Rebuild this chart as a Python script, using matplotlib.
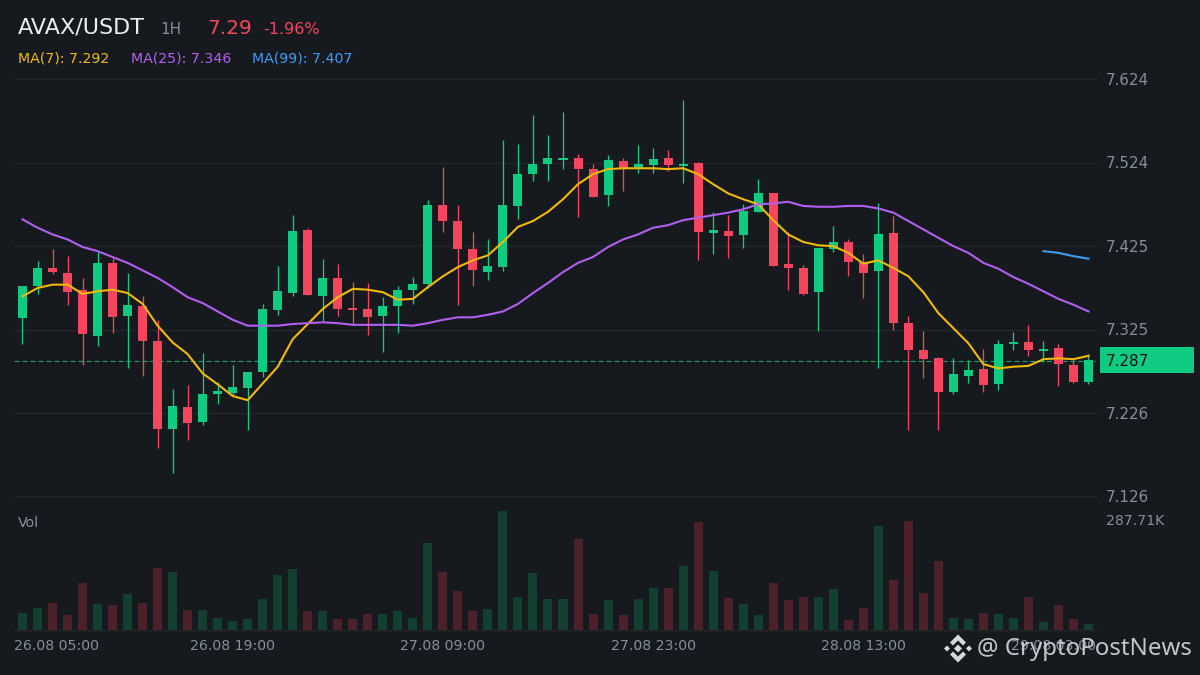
import matplotlib
matplotlib.use("Agg")
import matplotlib.pyplot as plt
from matplotlib.patches import Polygon, Rectangle

# ================= DATA =================
opens = [7.339, 7.377, 7.399, 7.393, 7.373, 7.318, 7.405, 7.342, 7.354, 7.312, 7.207, 7.233,
         7.215, 7.248, 7.250, 7.255, 7.275, 7.349, 7.369, 7.444, 7.365, 7.387, 7.351, 7.350,
         7.342, 7.354, 7.373, 7.380, 7.474, 7.455, 7.422, 7.394, 7.400, 7.473, 7.511, 7.523,
         7.528, 7.530, 7.517, 7.486, 7.527, 7.518, 7.522, 7.530, 7.521, 7.524, 7.441, 7.443,
         7.438, 7.466, 7.488, 7.404, 7.399, 7.370, 7.422, 7.430, 7.406, 7.395, 7.441, 7.333,
         7.301, 7.291, 7.251, 7.270, 7.278, 7.260, 7.308, 7.310, 7.300, 7.303, 7.283, 7.263]
highs = [7.377, 7.407, 7.422, 7.413, 7.387, 7.418, 7.411, 7.393, 7.365, 7.337, 7.254, 7.259,
         7.297, 7.263, 7.283, 7.275, 7.356, 7.401, 7.462, 7.447, 7.410, 7.404, 7.382, 7.381,
         7.364, 7.377, 7.388, 7.480, 7.520, 7.474, 7.442, 7.433, 7.552, 7.547, 7.582, 7.558,
         7.585, 7.535, 7.523, 7.534, 7.530, 7.546, 7.542, 7.540, 7.600, 7.525, 7.466, 7.462,
         7.475, 7.505, 7.488, 7.442, 7.402, 7.423, 7.449, 7.433, 7.416, 7.476, 7.461, 7.342,
         7.324, 7.293, 7.291, 7.289, 7.302, 7.313, 7.322, 7.331, 7.312, 7.308, 7.289, 7.296]
lows = [7.308, 7.368, 7.392, 7.355, 7.283, 7.306, 7.321, 7.279, 7.270, 7.184, 7.154, 7.193,
        7.211, 7.236, 7.246, 7.205, 7.269, 7.343, 7.365, 7.367, 7.334, 7.342, 7.331, 7.319,
        7.299, 7.321, 7.356, 7.375, 7.442, 7.355, 7.377, 7.385, 7.395, 7.457, 7.503, 7.503,
        7.517, 7.460, 7.484, 7.473, 7.491, 7.512, 7.512, 7.515, 7.500, 7.408, 7.416, 7.411,
        7.423, 7.466, 7.401, 7.373, 7.367, 7.324, 7.418, 7.389, 7.363, 7.279, 7.325, 7.205,
        7.267, 7.205, 7.248, 7.261, 7.251, 7.253, 7.301, 7.294, 7.287, 7.258, 7.261, 7.260]
closes = [7.377, 7.399, 7.394, 7.370, 7.320, 7.405, 7.340, 7.355, 7.312, 7.207, 7.234, 7.214,
          7.248, 7.252, 7.257, 7.275, 7.350, 7.371, 7.443, 7.367, 7.387, 7.350, 7.349, 7.340,
          7.354, 7.373, 7.380, 7.474, 7.455, 7.422, 7.396, 7.401, 7.474, 7.511, 7.523, 7.530,
          7.530, 7.517, 7.484, 7.528, 7.518, 7.523, 7.529, 7.522, 7.523, 7.442, 7.444, 7.437,
          7.467, 7.488, 7.401, 7.399, 7.368, 7.423, 7.430, 7.406, 7.393, 7.439, 7.333, 7.301,
          7.290, 7.251, 7.272, 7.277, 7.259, 7.308, 7.310, 7.301, 7.302, 7.284, 7.263, 7.289]

volumes = [43.3, 56.6, 69.8, 38.0, 122.9, 67.2, 64.5, 93.7, 69.8, 162.7, 152.0, 51.3,
           51.3, 30.0, 22.0, 27.4, 80.4, 144.0, 160.0, 48.6, 48.6, 27.4, 27.4, 40.7,
           40.7, 48.6, 30.0, 229.0, 152.0, 101.7, 48.6, 53.9, 313.8, 85.7, 149.4, 80.4,
           80.4, 239.6, 40.7, 77.8, 38.0, 80.4, 109.6, 109.6, 168.0, 284.6, 154.7, 83.0,
           67.2, 38.0, 122.9, 77.8, 85.7, 85.7, 107.0, 24.8, 56.6, 274.0, 130.8, 287.3,
           96.4, 181.2, 30.0, 27.4, 43.3, 40.7, 30.0, 85.7, 19.4, 64.5, 27.4, 14.1]

ma7 = [7.365, 7.375, 7.379, 7.379, 7.368, 7.371, 7.373, 7.369, 7.356, 7.330, 7.310, 7.296,
       7.273, 7.260, 7.246, 7.241, 7.261, 7.281, 7.314, 7.332, 7.350, 7.364, 7.374, 7.373,
       7.370, 7.361, 7.362, 7.376, 7.389, 7.400, 7.408, 7.414, 7.430, 7.448, 7.455, 7.466,
       7.481, 7.499, 7.511, 7.517, 7.518, 7.518, 7.518, 7.517, 7.518, 7.511, 7.499, 7.488,
       7.481, 7.475, 7.456, 7.439, 7.430, 7.426, 7.425, 7.417, 7.404, 7.408, 7.399, 7.389,
       7.370, 7.345, 7.327, 7.309, 7.284, 7.279, 7.281, 7.282, 7.290, 7.291, 7.290, 7.294]
ma25 = [7.457, 7.447, 7.439, 7.433, 7.424, 7.419, 7.412, 7.405, 7.396, 7.387, 7.376, 7.364,
        7.357, 7.347, 7.337, 7.330, 7.330, 7.330, 7.332, 7.333, 7.334, 7.333, 7.331, 7.331,
        7.331, 7.331, 7.330, 7.333, 7.337, 7.340, 7.340, 7.343, 7.347, 7.356, 7.369, 7.381,
        7.394, 7.405, 7.412, 7.424, 7.433, 7.439, 7.447, 7.450, 7.456, 7.459, 7.462, 7.465,
        7.469, 7.475, 7.476, 7.478, 7.473, 7.472, 7.472, 7.473, 7.473, 7.470, 7.465, 7.455,
        7.445, 7.435, 7.425, 7.417, 7.405, 7.398, 7.388, 7.380, 7.371, 7.362, 7.355, 7.347]
ma99_idx = [68, 69, 70, 71]
ma99 = [7.419, 7.417, 7.413, 7.410]

price_ticks = [7.6240, 7.5244, 7.4248, 7.3252, 7.2256, 7.1260]
last_price = 7.288
last_label = "7.287"
vol_tick = 287.71
date_idx = [0, 14, 28, 42, 56, 70]
date_labels = ["26.08 05:00", "26.08 19:00", "27.08 09:00", "27.08 23:00", "28.08 13:00", "29.08 03:00"]

# ================= STYLE =================
BG = "#161a1e"
GRID = "#24282d"
UP = "#0ecb81"
DOWN = "#f6465d"
UP_VOL = "#133f30"
DOWN_VOL = "#4c2129"
YELLOW = "#f0b90b"
PURPLE = "#b15ff0"
BLUE = "#3d9bf5"
GRAY = "#848e9c"
W, H = 1200, 675

fig = plt.figure(figsize=(12, 6.75), dpi=100, facecolor=BG)


def px_axes(left, top, right, bottom):
    return fig.add_axes([left / W, 1 - bottom / H, (right - left) / W, (bottom - top) / H])


def label(x, y, s, **kw):
    kw.setdefault("va", "center")
    fig.text(x / W, 1 - y / H, s, **kw)


ax = px_axes(14, 79.5, 1096, 496.5)
vax = px_axes(14, 511, 1096, 629.5)
for a in (ax, vax):
    a.set_facecolor("none")
    a.set_xlim(-0.566, 71.5)
    a.set_xticks([])
    a.set_yticks([])
    for s in a.spines.values():
        s.set_visible(False)

ax.set_ylim(7.126, 7.624)
vax.set_ylim(0, 314)

# ================= GRID =================
for t in price_ticks:
    ax.axhline(t, color=GRID, lw=1.0, zorder=1, clip_on=False)
    ypix = 79.5 + (7.624 - t) * 417 / 0.498
    label(1106, ypix + 1, f"{t:.3f}", color=GRAY, fontsize=10.9)
vax.axhline(0, color=GRID, lw=1.0, clip_on=False)
ax.axhline(last_price, color=UP, lw=0.8, dashes=(4.5, 2.7), alpha=0.8, zorder=2)

# ================= CANDLES =================
for i in range(len(opens)):
    up = closes[i] >= opens[i]
    color = UP if up else DOWN
    ax.vlines(i, lows[i], highs[i], color=color, lw=0.95, zorder=3)
    ax.bar(i, abs(closes[i] - opens[i]), bottom=min(opens[i], closes[i]), width=0.6, color=color, zorder=3)
    vax.bar(i, volumes[i], width=0.6, color=UP_VOL if up else DOWN_VOL)

# ================= MOVING AVERAGES =================
x_all = list(range(len(opens)))
ax.plot(x_all, ma7, color=YELLOW, lw=1.5, zorder=4)
ax.plot(x_all, ma25, color=PURPLE, lw=1.5, zorder=4)
ax.plot(ma99_idx, ma99, color=BLUE, lw=1.5, zorder=4)

# ================= LAST PRICE TAG =================
fig.add_artist(Rectangle((1100 / W, 1 - 373 / H), 94 / W, 26 / H, transform=fig.transFigure, color=UP, lw=0))
label(1106, 362, last_label, color="#111417", fontsize=10.9)

# ================= HEADER =================
label(18, 27.5, "AVAX/USDT", color="#eaecef", fontsize=16)
label(160, 30, "1H", color=GRAY, fontsize=11)
label(207, 28.5, "7.29", color=DOWN, fontsize=14.5)
label(263, 29.5, "-1.96%", color=DOWN, fontsize=11.5)
label(18, 58.5, "MA(7): 7.292", color=YELLOW, fontsize=10.2)
label(131, 58.5, "MA(25): 7.346", color=PURPLE, fontsize=10.2)
label(252, 58.5, "MA(99): 7.407", color=BLUE, fontsize=10.2)

# ================= VOLUME LABELS =================
label(18, 523, "Vol", color=GRAY, fontsize=10.2)
label(1106, 521, f"{vol_tick:.2f}K", color=GRAY, fontsize=10.2)

# ================= DATE LABELS =================
for i, d in zip(date_idx, date_labels):
    xpix = 22.5 + i * 15.014
    if i == date_idx[0]:
        label(14, 646.5, d, color=GRAY, fontsize=10.2)
    elif i == date_idx[-1]:
        label(1096, 646.5, d, color=GRAY, fontsize=10.2, ha="right")
    else:
        label(xpix, 646.5, d, color=GRAY, fontsize=10.2, ha="center")

# ================= WATERMARK =================
LOGO = "#d5d8dc"
cx, cy = 958, 648.5
shapes = [
    [(0, -4), (4, 0), (0, 4), (-4, 0)],
    [(0, -14), (8, -6), (5, -3), (0, -8), (-5, -3), (-8, -6)],
    [(0, 14), (8, 6), (5, 3), (0, 8), (-5, 3), (-8, 6)],
    [(-14, 0), (-11, -3), (-8, 0), (-11, 3)],
    [(14, 0), (11, -3), (8, 0), (11, 3)],
]
for pts in shapes:
    xy = [((cx + a) / W, 1 - (cy + b) / H) for a, b in pts]
    fig.add_artist(Polygon(xy, closed=True, transform=fig.transFigure, color=LOGO, lw=0, zorder=10))
label(977, 649, "@ CryptoPostNews", color=LOGO, alpha=0.9, fontsize=17.3, family="Noto Sans", zorder=10)

fig.savefig("out.png", dpi=100, facecolor=BG)
